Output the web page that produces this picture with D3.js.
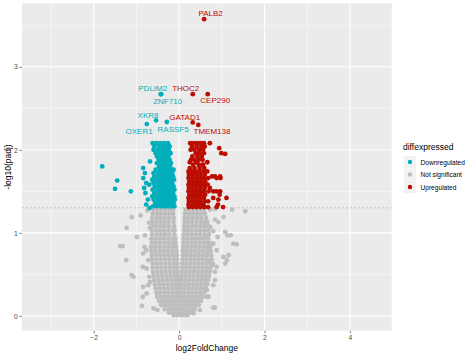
<!DOCTYPE html>
<html><head><meta charset="utf-8">
<script src="https://cdn.jsdelivr.net/npm/d3@7"></script>
<style>body{margin:0;background:#fff}svg{display:block;font-family:"Liberation Sans",Arial,sans-serif}</style>
</head><body><svg id="c" width="474" height="356"></svg>
<script>
// ---- data (log2FoldChange, -log10(padj)) ----
const xTicks = [-2, 0, 2, 4];
const yTicks = [0, 1, 2, 3];
const legendLabels = ["Downregulated", "Not significant", "Upregulated"];
const threshold = 1.30103;

// not significant: rows of [y, [x...]]
const greyRows = [
 [1.28,[-0.60,-0.50,-0.41,-0.32,-0.22,-0.14,0.15,0.24,0.33,0.42,0.51,0.58]],
 [1.23,[-0.62,-0.52,-0.43,-0.33,-0.24,-0.14,0.14,0.23,0.32,0.41,0.50,0.60]],
 [1.18,[-0.63,-0.53,-0.44,-0.34,-0.24,-0.13,0.13,0.22,0.32,0.42,0.52,0.63]],
 [1.13,[-0.63,-0.54,-0.44,-0.35,-0.25,-0.13,0.13,0.22,0.31,0.41,0.51,0.60,0.66]],
 [1.08,[-0.62,-0.53,-0.43,-0.34,-0.24,-0.12,0.12,0.21,0.31,0.40,0.50,0.59,0.67]],
 [1.03,[-0.64,-0.54,-0.45,-0.35,-0.25,-0.15,-0.11,0.12,0.21,0.30,0.40,0.49,0.59,0.68]],
 [0.98,[-0.63,-0.53,-0.43,-0.33,-0.23,-0.11,0.11,0.20,0.30,0.40,0.50,0.60,0.70]],
 [0.93,[-0.65,-0.55,-0.45,-0.35,-0.25,-0.15,-0.09,0.11,0.20,0.30,0.39,0.49,0.58,0.68]],
 [0.88,[-0.64,-0.54,-0.44,-0.34,-0.24,-0.14,-0.08,0.10,0.19,0.29,0.38,0.48,0.58,0.67,0.72]],
 [0.83,[-0.66,-0.56,-0.46,-0.36,-0.26,-0.16,-0.07,0.10,0.19,0.28,0.38,0.47,0.57,0.66,0.73]],
 [0.78,[-0.65,-0.55,-0.45,-0.35,-0.25,-0.15,-0.06,0.09,0.18,0.28,0.37,0.47,0.56,0.66,0.74]],
 [0.73,[-0.64,-0.54,-0.44,-0.34,-0.24,-0.14,-0.05,0.09,0.18,0.27,0.37,0.46,0.56,0.65,0.75]],
 [0.68,[-0.63,-0.53,-0.43,-0.33,-0.23,-0.13,-0.05,0.08,0.17,0.27,0.36,0.46,0.55,0.65,0.76]],
 [0.63,[-0.62,-0.52,-0.42,-0.32,-0.22,-0.12,-0.04,0.08,0.17,0.26,0.36,0.45,0.55,0.64,0.74,0.79]],
 [0.58,[-0.62,-0.52,-0.42,-0.32,-0.22,-0.12,-0.04,0.07,0.16,0.26,0.35,0.45,0.54,0.64,0.73]],
 [0.53,[-0.61,-0.51,-0.41,-0.31,-0.21,-0.11,-0.03,0.07,0.16,0.25,0.35,0.44,0.54,0.63,0.72]],
 [0.48,[-0.60,-0.50,-0.40,-0.30,-0.20,-0.10,-0.03,0.06,0.15,0.25,0.34,0.44,0.53,0.62,0.70]],
 [0.43,[-0.58,-0.48,-0.38,-0.28,-0.18,-0.09,-0.02,0.06,0.15,0.24,0.34,0.43,0.52,0.61,0.68]],
 [0.38,[-0.57,-0.47,-0.37,-0.27,-0.17,-0.08,-0.02,0.05,0.14,0.23,0.33,0.42,0.51,0.60,0.66]],
 [0.33,[-0.55,-0.45,-0.35,-0.25,-0.16,-0.07,-0.01,0.05,0.13,0.23,0.32,0.41,0.50,0.59,0.63]],
 [0.28,[-0.53,-0.44,-0.34,-0.25,-0.15,-0.06,0.00,0.04,0.13,0.22,0.31,0.40,0.49,0.58]],
 [0.23,[-0.51,-0.42,-0.33,-0.24,-0.14,-0.05,0.02,0.11,0.20,0.29,0.38,0.47,0.55]],
 [0.18,[-0.47,-0.38,-0.29,-0.20,-0.11,-0.02,0.07,0.16,0.25,0.34,0.43,0.51]],
 [0.13,[-0.42,-0.33,-0.24,-0.15,-0.06,0.03,0.12,0.21,0.30,0.39,0.46]],
 [0.08,[-0.34,-0.25,-0.16,-0.07,0.02,0.11,0.20,0.29,0.37]],
 [0.04,[-0.24,-0.15,-0.06,0.03,0.12,0.21,0.28]],
 [0.01,[-0.13,-0.04,0.05,0.14,0.20]]
];
const greyOutliers = [
 [-1.11,1.19],[-0.90,1.21],[-1.23,1.06],[-0.99,0.95],[-1.38,0.84],[-1.32,0.84],[-1.24,0.67],
 [-1.11,0.49],[-1.07,0.47],[-0.85,0.59],[-0.84,0.35],[-0.85,0.23],[-0.87,0.12],[-0.80,0.97],
 [-0.81,0.83],[-0.84,0.75],[-0.76,0.57],[-0.70,0.47],[-0.68,0.41],[-0.60,0.09],[-0.51,0.07],
 [-0.70,1.12],[-0.68,1.06],[-0.72,0.67],[-0.76,0.27],[-0.72,0.37],[-0.74,1.27],[-0.77,0.79],
 [1.24,1.28],[1.55,1.26],[1.04,1.19],[0.84,1.16],[0.92,1.13],[1.08,1.01],[1.21,0.97],[1.13,0.97],
 [1.27,0.87],[1.35,0.86],[1.04,0.71],[1.16,0.73],[1.12,0.67],[1.08,0.63],[0.88,0.59],[0.84,0.53],
 [0.84,0.43],[0.80,0.37],[0.65,0.31],[0.65,0.23],[0.84,0.10],[0.49,0.07],[0.34,0.03],[0.73,1.07],
 [0.80,0.87],[0.65,0.95],[0.69,0.79],[0.73,1.28],[0.84,1.29],[0.69,0.67],[0.77,0.61],[0.80,0.10],
 [0.69,0.23],[0.80,1.02],[0.88,0.79],[0.90,0.95]
];
// downregulated
const downRows = [
 [2.08,[-0.62,-0.53,-0.44,-0.35,-0.26]],
 [2.04,[-0.58,-0.47,-0.38,-0.29,-0.22]],
 [2.00,[-0.60,-0.50,-0.41,-0.32,-0.24]],
 [1.96,[-0.55,-0.45,-0.36,-0.27,-0.20]],
 [1.92,[-0.52,-0.42,-0.33,-0.25]],
 [1.88,[-0.48,-0.39,-0.30,-0.22]],
 [1.84,[-0.52,-0.43,-0.34,-0.26,-0.19]],
 [1.80,[-0.47,-0.38,-0.30,-0.21]],
 [1.76,[-0.55,-0.45,-0.36,-0.27,-0.19,-0.13]],
 [1.72,[-0.60,-0.50,-0.41,-0.32,-0.24,-0.16]],
 [1.68,[-0.58,-0.48,-0.39,-0.30,-0.22,-0.14]],
 [1.64,[-0.63,-0.53,-0.44,-0.35,-0.27,-0.19,-0.12]],
 [1.60,[-0.60,-0.50,-0.41,-0.32,-0.24,-0.16]],
 [1.56,[-0.57,-0.47,-0.38,-0.29,-0.21,-0.13]],
 [1.52,[-0.62,-0.52,-0.43,-0.34,-0.26,-0.18,-0.11]],
 [1.48,[-0.58,-0.48,-0.39,-0.30,-0.22,-0.14]],
 [1.44,[-0.63,-0.53,-0.44,-0.35,-0.27,-0.19,-0.11]],
 [1.40,[-0.60,-0.50,-0.41,-0.32,-0.24,-0.16,-0.10]],
 [1.36,[-0.56,-0.46,-0.37,-0.29,-0.21,-0.13]],
 [1.32,[-0.61,-0.52,-0.43,-0.34,-0.26,-0.18,-0.11]]
];
const downOutliers = [
 [-1.80,1.80],[-1.45,1.63],[-1.50,1.53],[-1.13,1.50],[-0.84,1.78],[-0.80,1.72],[-0.84,1.66],
 [-0.77,1.60],[-0.82,1.54],[-0.79,1.48],[-0.73,1.40],[-0.77,1.34],[-0.69,1.30],[-0.70,1.58],[-0.68,1.86]
];
// upregulated
const upRows = [
 [2.08,[0.26,0.34,0.42,0.50,0.58,0.72]],
 [2.04,[0.30,0.41,0.52,0.60]],
 [2.02,[0.94]],
 [2.00,[0.27,0.36,0.47,0.56]],
 [1.96,[0.39,0.48,0.58,0.99]],
 [1.95,[1.08]],
 [1.92,[0.31,0.43,0.53]],
 [1.88,[0.28,0.36,0.46,0.55]],
 [1.85,[0.25,0.41,0.66]],
 [1.82,[0.33,0.46,0.56]],
 [1.78,[0.25,0.36,0.48,0.59]],
 [1.74,[0.22,0.30,0.39,0.48,0.57,0.66]],
 [1.70,[0.23,0.32,0.41,0.50,0.60]],
 [1.68,[0.77,0.84,0.96]],
 [1.66,[0.22,0.31,0.40,0.49,0.58,0.68,0.88,0.97]],
 [1.62,[0.24,0.33,0.42,0.51,0.61]],
 [1.58,[0.22,0.31,0.40,0.49,0.58,0.67]],
 [1.54,[0.23,0.32,0.41,0.50,0.60,0.72]],
 [1.50,[0.22,0.31,0.40,0.49,0.58,0.69,0.80,0.87,0.96]],
 [1.46,[0.24,0.33,0.42,0.51,0.61,0.95]],
 [1.42,[0.22,0.31,0.40,0.49,0.58,0.80,1.11]],
 [1.40,[0.92]],
 [1.38,[0.23,0.32,0.41,0.50,0.60,0.68]],
 [1.34,[0.22,0.31,0.40,0.49,0.57,0.91]],
 [1.31,[0.23,0.32,0.41,0.50,0.59,0.68,0.88,1.03]]
];
// labelled genes
const geneNames = ["PALB2","PDLIM2","ZNF710","THOC2","CEP290","XKR8","OXER1","RASSF5","GATAD1","TMEM138"];
const geneFC    = [0.586,-0.43,-0.42,0.32,0.67,-0.54,-0.757,-0.288,0.32,0.45];
const genePadj  = [3.574,2.67,2.67,2.67,2.67,2.355,2.31,2.335,2.33,2.30];
const geneGroup = [2,0,0,2,2,0,0,0,2,2];
// label offsets in px (repel placement)
const labelDx = [6.5,-8,6.5,-7,7.5,-8,-7.7,6.3,-8,13.7];
const labelDy = [-6,-5.5,7,-5.3,6.7,-5.3,7,7,-5.3,7];

const colors = ["#00AFBB", "#BEBEBE", "#BB0C00"];

// ---- build points ----
const pts = [];
greyRows.forEach(([y, xs]) => xs.forEach(x => pts.push({x, y, g:1})));
greyOutliers.forEach(([x, y]) => pts.push({x, y, g:1}));
downRows.forEach(([y, xs]) => xs.forEach(x => pts.push({x, y, g:0})));
downOutliers.forEach(([x, y]) => pts.push({x, y, g:0}));
upRows.forEach(([y, xs]) => xs.forEach(x => pts.push({x, y, g:2})));
geneNames.forEach((n, i) => pts.push({x:geneFC[i], y:genePadj[i], g:geneGroup[i], name:n, i}));

// ---- layout ----
const svg = d3.select("#c");
const P = {l:22, r:391.7, t:3.3, b:330.7};
const x = d3.scaleLinear().domain([-3.68, 4.98]).range([P.l, P.r]);
const y = d3.scaleLinear().domain([-0.179, 3.765]).range([P.b, P.t]);

svg.append("rect").attr("x",P.l).attr("y",P.t).attr("width",P.r-P.l).attr("height",P.b-P.t).attr("fill","#EBEBEB");
const grid = svg.append("g");
[-3,-1,1,3].forEach(v => grid.append("line").attr("x1",x(v)).attr("x2",x(v)).attr("y1",P.t).attr("y2",P.b).attr("stroke","#fff").attr("stroke-width",0.5));
[0.5,1.5,2.5,3.5].forEach(v => grid.append("line").attr("y1",y(v)).attr("y2",y(v)).attr("x1",P.l).attr("x2",P.r).attr("stroke","#fff").attr("stroke-width",0.5));
xTicks.forEach(v => grid.append("line").attr("x1",x(v)).attr("x2",x(v)).attr("y1",P.t).attr("y2",P.b).attr("stroke","#fff").attr("stroke-width",1.1));
yTicks.forEach(v => grid.append("line").attr("y1",y(v)).attr("y2",y(v)).attr("x1",P.l).attr("x2",P.r).attr("stroke","#fff").attr("stroke-width",1.1));

// threshold line
svg.append("line").attr("x1",P.l).attr("x2",P.r).attr("y1",y(threshold)).attr("y2",y(threshold))
  .attr("stroke","#A8A8A8").attr("stroke-width",0.6).attr("stroke-dasharray","2,2");

// points
const order = [1,0,2];
svg.append("g").selectAll("circle").data(pts.slice().sort((a,b)=>order.indexOf(a.g)-order.indexOf(b.g)))
  .join("circle").attr("cx",d=>x(d.x)).attr("cy",d=>y(d.y)).attr("r",2.4).attr("fill",d=>colors[d.g]);

// labels
svg.append("g").selectAll("text").data(pts.filter(d=>d.name))
  .join("text").attr("x",d=>x(d.x)+labelDx[d.i]).attr("y",d=>y(d.y)+labelDy[d.i])
  .attr("text-anchor","middle").attr("dominant-baseline","central")
  .attr("font-size","8px").attr("fill",d=>colors[d.g]).text(d=>d.name);

// axes
const xa = svg.append("g").attr("transform",`translate(0,${P.b})`)
  .call(d3.axisBottom(x).tickValues(xTicks).tickSize(2.7).tickPadding(1.5).tickFormat(d3.format("d")));
const ya = svg.append("g").attr("transform",`translate(${P.l},0)`)
  .call(d3.axisLeft(y).tickValues(yTicks).tickSize(2.7).tickPadding(1.5).tickFormat(d3.format("d")));
[xa, ya].forEach(a => {
  a.select(".domain").remove();
  a.selectAll(".tick line").attr("stroke","#333").attr("stroke-width",0.6);
  a.selectAll(".tick text").attr("fill","#4D4D4D").attr("font-size","6.8px").attr("font-family","Liberation Sans, Arial, sans-serif");
});

svg.append("text").attr("x",(P.l+P.r)/2).attr("y",351).attr("text-anchor","middle")
  .attr("font-size","8.5px").attr("fill","#000").text("log2FoldChange");
svg.append("text").attr("transform",`translate(10.5,${(P.t+P.b)/2}) rotate(-90)`).attr("text-anchor","middle")
  .attr("font-size","8.5px").attr("fill","#000").text("-log10(padj)");

// legend
const lg = svg.append("g");
lg.append("text").attr("x",403).attr("y",150).attr("font-size","8.5px").attr("fill","#000").text("diffexpressed");
legendLabels.forEach((t, i) => {
  const cy = 162 + i*12.5;
  lg.append("rect").attr("x",404).attr("y",cy-6).attr("width",12).attr("height",12).attr("fill","#F2F2F2");
  lg.append("circle").attr("cx",410).attr("cy",cy).attr("r",2.2).attr("fill",colors[i]);
  lg.append("text").attr("x",420.5).attr("y",cy).attr("dominant-baseline","central")
    .attr("font-size","6.6px").attr("fill","#000").text(t);
});
</script></body></html>
